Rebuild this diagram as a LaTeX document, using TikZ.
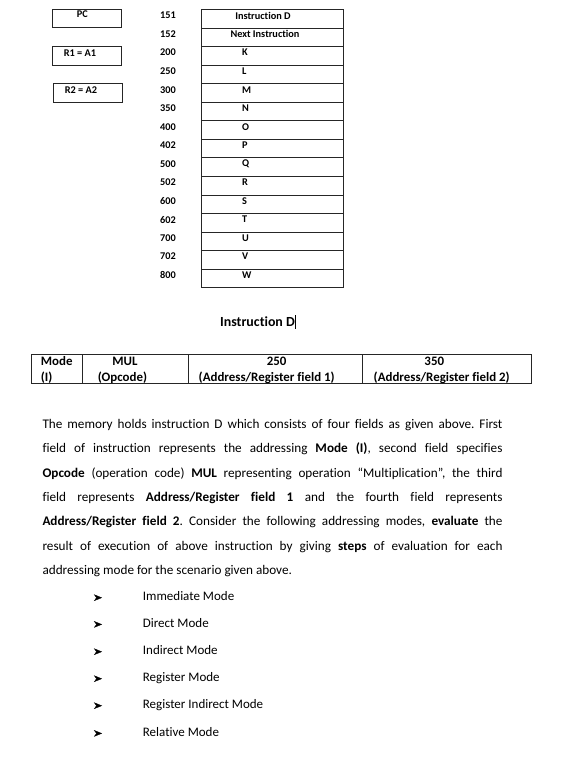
\documentclass[tikz,border=0pt]{standalone}
\usepackage{fontspec}
\setmainfont{Carlito}[Ligatures={NoCommon}]
\frenchspacing
\begin{document}
\frenchspacing
\begin{tikzpicture}[x=1pt,y=-1pt]
\useasboundingbox[fill=white] (0,0) rectangle (565,766);
\tikzset{
  regbox/.style={draw=black!85, line width=0.9pt, minimum width=68.4pt, anchor=north west, inner sep=0pt},
  memcell/.style={draw=black!85, line width=0.8pt, minimum width=141.7pt, minimum height=18.55pt, anchor=north west, inner sep=0pt},
  memtxt/.style={font=\fontsize{10.3}{12}\selectfont\bfseries, inner sep=0pt},
  fieldcell/.style={draw=black!85, line width=0.9pt, anchor=north west, inner sep=0pt, minimum height=29.3pt},
  fieldtxt/.style={font=\fontsize{12.9}{15}\selectfont\bfseries, inner sep=0pt, anchor=base},
  paratxt/.style={font=\fontsize{13.2}{16}\selectfont, inner sep=0pt, anchor=base west},
  bullettxt/.style={font=\fontsize{13}{16}\selectfont, inner sep=0pt, anchor=base west},
  bulletmark/.style={fill=black, draw=black, line width=0.3pt, line join=miter},
}
% registers
\node[regbox, minimum height=17.7pt] (pc) at (52.3,9) {};
\node[regbox, minimum height=18.7pt] (r1) at (52.3,46.3) {};
\node[regbox, minimum height=18.4pt] (r2) at (53.3,83.3) {};
\node[memtxt] (pct) at (82.3,14.5) {PC};
\node[memtxt] (r1t) at (80,53) {R1 = A1};
\node[memtxt] (r2t) at (81,90) {R2 = A2};
% memory
\foreach \i/\addr [count=\k from 0] in {1/151,2/152,3/200,4/250,5/300,6/350,7/400,8/402,9/500,10/502,11/600,12/602,13/700,14/702,15/800}{
  \node[memcell] (m\i) at (201,9+\k*18.55) {};
  \node[memtxt, anchor=west] (a\i) at (160,15.5+\k*18.55) {\addr};
}
\foreach \i/\val in {3/K,4/L,5/M,6/N,7/O,8/P,9/Q,10/R,11/S,12/T,13/U,14/V,15/W}{
  \node[memtxt, anchor=west] (v\i) at ([xshift=41pt]m\i.west |- a\i) {\val};
}
\node[memtxt] (v1) at (263,15.5) {Instruction D};
\node[memtxt] (v2) at (265,34.05) {Next Instruction};
% instruction label
\node[font=\fontsize{13.9}{16}\selectfont\bfseries, inner sep=0pt, anchor=base] (ilab) at (257.5,326.5) {Instruction D};
\coordinate (curtop) at (295,315);
\coordinate (curbot) at (295,328.5);
\draw[line width=0.9pt] (curtop) -- (curbot);
% field table
\node[fieldcell, minimum width=51.3pt] (f1) at (31,354) {};
\node[fieldcell, minimum width=106pt] (f2) at (82.3,354) {};
\node[fieldcell, minimum width=173.4pt] (f3) at (188.3,354) {};
\node[fieldcell, minimum width=169.3pt] (f4) at (361.7,354) {};
\node[fieldtxt, anchor=base west] (f1a) at (40.7,365) {Mode};
\node[fieldtxt, anchor=base west] (f1b) at (40.7,381) {(I)};
\node[fieldtxt] (f2a) at (125,365) {MUL};
\node[fieldtxt] (f2b) at (122.5,381) {(Opcode)};
\node[fieldtxt] (f3a) at (276.7,365) {250};
\node[fieldtxt] (f3b) at (266.7,381) {(Address/Register field 1)};
\node[fieldtxt] (f4a) at (434.3,365) {350};
\node[fieldtxt] (f4b) at (441.7,381) {(Address/Register field 2)};
% paragraph
\node[paratxt] (p1) at (42.3,428.5) {\makebox[460pt][s]{The memory holds instruction D which consists of four fields as given above. First}};
\node[paratxt] (p2) at (42.3,452.8) {\makebox[460pt][s]{field of instruction represents the addressing \textbf{Mode (I)}, second field specifies}};
\node[paratxt] (p3) at (42.3,477.5) {\makebox[460pt][s]{\textbf{Opcode} (operation code) \textbf{MUL} representing operation “Multiplication”, the third}};
\node[paratxt] (p4) at (42.3,501.5) {\makebox[460pt][s]{field represents \textbf{Address/Register field 1} and the fourth field represents}};
\node[paratxt] (p5) at (42.3,525.8) {\makebox[460pt][s]{\textbf{Address/Register field 2}. Consider the following addressing modes, \textbf{evaluate} the}};
\node[paratxt] (p6) at (42.3,550.2) {\makebox[460pt][s]{result of execution of above instruction by giving \textbf{steps} of evaluation for each}};
\node[paratxt] (p7) at (42.3,574.2) {addressing mode for the scenario given above.};
% bullets
\foreach \n/\t/\yy in {1/Immediate Mode/600.3,2/Direct Mode/627,3/Indirect Mode/654.3,4/Register Mode/681.3,5/Register Indirect Mode/708.3,6/Relative Mode/736}{
  \coordinate (bm\n) at (94.3,\yy-2.6);
  \fill[bulletmark] (bm\n) ++(0,-3) -- ++(7.4,3) -- ++(-7.4,3) -- ++(2.2,-3) -- cycle;
  \node[bullettxt] (bt\n) at (142.7,\yy) {\t};
}
\end{tikzpicture}
\end{document}
